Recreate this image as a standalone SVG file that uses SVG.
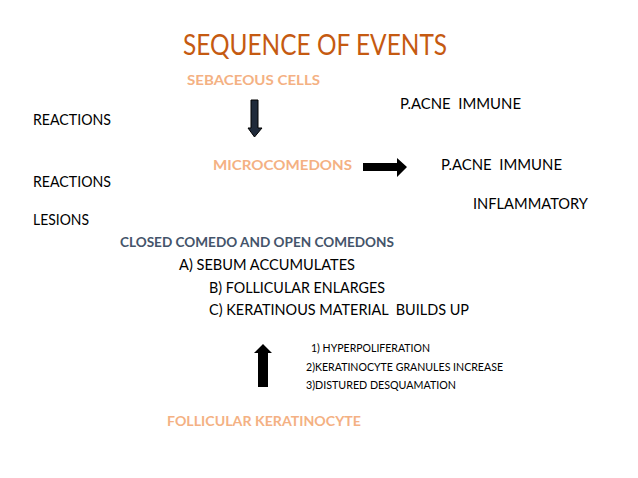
<svg xmlns="http://www.w3.org/2000/svg" width="638" height="478" viewBox="0 0 638 478">
<style>
text{font-family:Lato,"Open Sans","Liberation Sans",sans-serif;}
.t{fill:#c55a11;font-size:28px;}
.o{fill:#f4b183;font-size:14px;font-weight:bold;}
.b{fill:#000;font-size:15px;}
.s{fill:#44546a;font-size:14px;font-weight:bold;}
.m{fill:#000;font-size:11px;}
</style>
<rect width="638" height="478" fill="#fff"/>
<g id="title"><text class="t" x="183" y="55" textLength="264" lengthAdjust="spacingAndGlyphs">SEQUENCE OF EVENTS</text></g>
<g id="sebaceous"><text class="o" x="187" y="85" textLength="133" lengthAdjust="spacingAndGlyphs">SEBACEOUS CELLS</text></g>
<g id="immune1">
<text class="b" x="400" y="109" textLength="121" lengthAdjust="spacingAndGlyphs" xml:space="preserve">P.ACNE  IMMUNE</text>
<text class="b" x="33" y="125" textLength="78" lengthAdjust="spacingAndGlyphs">REACTIONS</text>
</g>
<g id="microcomedons"><text class="o" x="213" y="170" textLength="139" lengthAdjust="spacingAndGlyphs">MICROCOMEDONS</text></g>
<g id="immune2">
<text class="b" x="441" y="170" textLength="121" lengthAdjust="spacingAndGlyphs" xml:space="preserve">P.ACNE  IMMUNE</text>
<text class="b" x="33" y="187" textLength="78" lengthAdjust="spacingAndGlyphs">REACTIONS</text>
</g>
<g id="inflammatory">
<text class="b" x="473" y="209" textLength="115" lengthAdjust="spacingAndGlyphs">INFLAMMATORY</text>
<text class="b" x="33" y="225" textLength="56" lengthAdjust="spacingAndGlyphs">LESIONS</text>
</g>
<g id="comedo">
<text class="s" x="120" y="247" textLength="274" lengthAdjust="spacingAndGlyphs">CLOSED COMEDO AND OPEN COMEDONS</text>
<text class="b" x="179" y="270" textLength="176" lengthAdjust="spacingAndGlyphs">A) SEBUM ACCUMULATES</text>
<text class="b" x="209" y="293" textLength="176" lengthAdjust="spacingAndGlyphs">B) FOLLICULAR ENLARGES</text>
<text class="b" x="209" y="315" textLength="260" lengthAdjust="spacingAndGlyphs" xml:space="preserve">C) KERATINOUS MATERIAL  BUILDS UP</text>
</g>
<g id="steps">
<text class="m" x="311" y="352" textLength="119" lengthAdjust="spacingAndGlyphs">1) HYPERPOLIFERATION</text>
<text class="m" x="306" y="371" textLength="197" lengthAdjust="spacingAndGlyphs">2)KERATINOCYTE GRANULES INCREASE</text>
<text class="m" x="306" y="389" textLength="150" lengthAdjust="spacingAndGlyphs">3)DISTURED DESQUAMATION</text>
</g>
<g id="keratinocyte"><text class="o" x="167" y="426" textLength="194" lengthAdjust="spacingAndGlyphs">FOLLICULAR KERATINOCYTE</text></g>
<g id="connectors">
<polygon points="251,100 258,100 258,128 262,128 254.5,137 248,128 251,128" fill="#1f2a3a" stroke="#000" stroke-width="1"/>
<polygon points="363,163 397,163 397,158 407,167 397,177 397,171 363,171" fill="#000"/>
<polygon points="258,387 268,387 268,353 272,353 263,344 254,353 258,353" fill="#000"/>
</g>
</svg>
